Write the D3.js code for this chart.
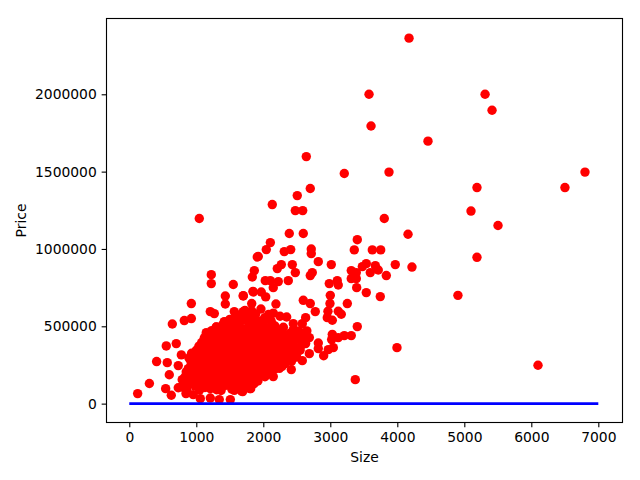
<!DOCTYPE html>
<html>
<head>
<meta charset="utf-8">
<script src="https://cdn.jsdelivr.net/npm/d3@7"></script>
<style>
  body { margin: 0; background: #fff; }
  svg { display: block; }
  text { font-family: "DejaVu Sans", sans-serif; fill: #000; }
</style>
</head>
<body>
<script>
// house prices vs size

// points that stand clear of the main cloud
var outerSizes = [125, 300, 543, 627, 597, 408, 567, 552, 701, 731, 777, 642, 821, 926, 926, 1149, 1209, 1269, 1224, 1224,
  1552, 1433, 1433, 1567, 1701, 1836, 1866, 1910, 1846, 1298, 1418, 1518, 1060, 1209, 1343, 1508, 731, 846, 955, 1304,
  1567, 1692, 1812, 1861, 2388, 2597, 3403, 3358, 3627, 3752, 2105, 2045, 1925, 2313, 2409, 2716, 2716, 2821, 3015, 3970,
  3537, 3478, 3672, 3716, 3597, 3836, 3313, 3388, 3313, 3388, 3394, 3537, 3746, 2269, 2209, 2433, 2478, 2731, 2701, 2030,
  2105, 2149, 2224, 2373, 2985, 3104, 3119, 3000, 2995, 2965, 2955, 3030, 3119, 3164, 3254, 2597, 2701, 2776, 3403, 3313,
  3209, 3119, 3030, 3020, 3045, 2970, 2901, 2821, 2821, 2687, 2687, 2582, 2418, 2149, 3373, 3995, 1851, 1970, 2036, 1701,
  1827, 1827, 2189, 1726, 2632, 2582, 2448, 2349, 2632, 2498, 2324, 2000, 1827, 1801, 1677, 2149,
  2642, 3209, 2701, 2507, 2134, 2478, 2588, 1045, 3806, 4175, 3578, 3608, 5310, 5414, 4458, 3876, 6801, 6502, 5189, 5100,
  5503, 5189, 4160, 4219, 4905, 6100,
  2450, 2530, 2600, 2500, 2580, 2450, 2650, 2540];
var outerPrices = [65000, 130000, 97000, 54000, 187000, 272000, 265000, 373000, 388000, 246000, 315000, 515000, 537000, 550000, 647000, 459000, 595000, 582000, 834000, 776000,
  770000, 696000, 644000, 595000, 698000, 819000, 860000, 948000, 726000, 495000, 530000, 519000, 32000, 36000, 26000, 26000, 103000, 65000, 58000, 90000,
  86000, 78000, 97000, 129000, 1100000, 1100000, 1060000, 994000, 994000, 994000, 1041000, 996000, 951000, 983000, 996000, 1000000, 970000, 918000, 899000, 899000,
  905000, 886000, 892000, 864000, 847000, 828000, 860000, 847000, 808000, 808000, 750000, 718000, 692000, 899000, 873000, 899000, 847000, 847000, 828000, 795000,
  795000, 750000, 789000, 795000, 776000, 795000, 767000, 700000, 647000, 597000, 556000, 539000, 597000, 578000, 647000, 668000, 647000, 595000, 498000, 440000,
  440000, 427000, 448000, 414000, 362000, 349000, 310000, 392000, 356000, 427000, 323000, 278000, 220000, 175000, 155000, 362000, 722000, 722000, 690000, 696000,
  647000, 600000, 644000, 603000, 388000, 517000, 517000, 560000, 556000, 301000, 259000, 181000, 125000, 97000, 81000, 237000,
  1597000, 1488000, 1391000, 1345000, 1287000, 1248000, 1248000, 1197000, 1197000, 2363000, 2000000, 1795000, 2000000, 1897000, 1697000, 1497000, 1497000, 1397000, 1397000, 1245000,
  1152000, 946000, 1095000, 883000, 700000, 248000,
  480000, 470000, 440000, 420000, 400000, 350000, 470000, 345000];

// main cloud, read roughly band by band
var cloudSizes = [780, 860, 980, 1050, 1130, 1210, 1290, 1370, 1440, 1530, 1620, 1700,
  790, 870, 950, 1040, 1120, 1180, 1270, 1340, 1420, 1510, 1590, 1660, 1750, 1830, 1920,
  850, 930, 1010, 1090, 1170, 1250, 1330, 1410, 1490, 1570, 1650, 1730, 1810, 1890, 1960, 2050, 2110,
  920, 1000, 1080, 1160, 1240, 1320, 1400, 1480, 1560, 1640, 1720, 1800, 1880, 1960, 2040, 2120, 2200, 2280,
  890, 960, 1040, 1120, 1200, 1280, 1360, 1440, 1520, 1600, 1680, 1760, 1840, 1920, 2000, 2080, 2160, 2240, 2320, 2400,
  1000, 1085, 1165, 1250, 1330, 1410, 1495, 1575, 1660, 1740, 1825, 1905, 1990, 2070, 2150, 2235, 2315, 2400, 2480, 2550,
  1080, 1170, 1260, 1345, 1430, 1520, 1605, 1690, 1780, 1865, 1950, 2040, 2125, 2210, 2300, 2385, 2470, 2600,
  1150, 1240, 1325, 1415, 1500, 1590, 1675, 1765, 1850, 1940, 2025, 2115, 2200, 2290, 2400,
  1300, 1390, 1475, 1565, 1650, 1740, 1825, 1915, 2000, 2090, 2175, 2300,
  1500, 1585, 1670, 1760, 1845, 1930, 2020, 2105, 2250,
  1700, 1965, 2150];
var cloudPrices = [108000, 92000, 115000, 88000, 104000, 96000, 112000, 85000, 118000, 94000, 106000, 110000,
  155000, 140000, 162000, 148000, 135000, 158000, 145000, 166000, 138000, 152000, 142000, 160000, 136000, 154000, 146000,
  205000, 188000, 212000, 196000, 185000, 208000, 192000, 215000, 186000, 202000, 194000, 210000, 184000, 206000, 198000, 190000, 214000,
  245000, 258000, 238000, 262000, 248000, 235000, 255000, 242000, 265000, 236000, 252000, 244000, 260000, 239000, 256000, 247000, 263000, 241000,
  295000, 308000, 288000, 312000, 298000, 285000, 305000, 292000, 315000, 286000, 302000, 294000, 310000, 289000, 306000, 297000, 313000, 291000, 304000, 296000,
  345000, 358000, 338000, 362000, 348000, 335000, 355000, 342000, 365000, 336000, 352000, 344000, 360000, 339000, 356000, 347000, 363000, 341000, 354000, 346000,
  395000, 408000, 388000, 412000, 398000, 385000, 405000, 392000, 415000, 386000, 402000, 394000, 410000, 389000, 406000, 397000, 413000, 391000,
  445000, 458000, 438000, 462000, 448000, 435000, 455000, 442000, 465000, 436000, 452000, 444000, 460000, 439000, 456000,
  495000, 508000, 488000, 512000, 498000, 485000, 505000, 492000, 515000, 486000, 502000, 494000,
  545000, 558000, 538000, 562000, 548000, 535000, 555000, 542000, 565000,
  595000, 612000, 585000];

// the packed middle of the cloud, between the bands above
var coreSizes = [820, 900, 985, 1065, 1150, 1235, 1315, 1400, 1475, 1560, 1640, 1720, 1790,
  830, 905, 990, 1070, 1145, 1225, 1300, 1385, 1465, 1545, 1625, 1700, 1785, 1865, 1950, 2025,
  880, 965, 1045, 1125, 1205, 1290, 1370, 1450, 1530, 1610, 1690, 1770, 1850, 1930, 2010, 2090, 2170, 2240,
  920, 1005, 1090, 1170, 1255, 1335, 1420, 1500, 1585, 1665, 1750, 1830, 1915, 1995, 2080, 2160, 2245, 2330, 2420,
  930, 1020, 1105, 1190, 1270, 1355, 1440, 1525, 1610, 1690, 1775, 1860, 1945, 2025, 2110, 2195, 2280, 2360, 2445,
  1040, 1125, 1210, 1295, 1375, 1460, 1545, 1630, 1715, 1800, 1880, 1965, 2050, 2135, 2220, 2300, 2380, 2440, 2560,
  1120, 1205, 1290, 1375, 1465, 1550, 1635, 1720, 1810, 1895, 1980, 2070, 2155, 2245, 2330, 2450,
  1230, 1315, 1400, 1490, 1575, 1660, 1750, 1835, 1920, 2010, 2095, 2180, 2280,
  1420, 1595, 1770, 1945, 2120,
  1620, 1885, 2080];
var corePrices = [122000, 130000, 126000, 120000, 128000, 124000, 132000, 121000, 127000, 125000, 131000, 123000, 129000,
  172000, 178000, 170000, 176000, 174000, 180000, 171000, 177000, 173000, 179000, 175000, 169000, 181000, 172000, 178000, 174000,
  226000, 221000, 229000, 224000, 231000, 222000, 228000, 225000, 220000, 230000, 223000, 227000, 232000, 221000, 226000, 229000, 224000, 228000,
  272000, 278000, 274000, 280000, 271000, 277000, 273000, 279000, 275000, 270000, 281000, 276000, 272000, 278000, 274000, 280000, 271000, 277000, 273000,
  326000, 322000, 329000, 324000, 331000, 321000, 327000, 325000, 320000, 330000, 323000, 328000, 332000, 322000, 326000, 329000, 324000, 327000, 321000,
  372000, 378000, 374000, 380000, 371000, 377000, 373000, 379000, 375000, 370000, 381000, 376000, 372000, 378000, 374000, 380000, 371000, 377000, 373000,
  426000, 422000, 429000, 424000, 431000, 421000, 427000, 425000, 420000, 430000, 423000, 428000, 432000, 422000, 426000, 429000,
  472000, 478000, 474000, 480000, 471000, 477000, 473000, 479000, 475000, 470000, 481000, 476000, 472000,
  526000, 529000, 531000, 525000, 530000,
  572000, 580000, 577000];

var lineX = [0, 7000];
var lineY = [0, 0];

var xTicks = [0, 1000, 2000, 3000, 4000, 5000, 6000, 7000];
var yTicks = [0, 500000, 1000000, 1500000, 2000000];

var xDomain = [-340, 7361];
var yDomain = [-122000, 2490000];

var w = 640, h = 480;
var margin = {top: 18.5, right: 17.5, bottom: 57.5, left: 106.5};

var svg = d3.select('body').append('svg')
    .attr('width', w)
    .attr('height', h);

var xScale = d3.scaleLinear().domain(xDomain).range([margin.left, w - margin.right]);
var yScale = d3.scaleLinear().domain(yDomain).range([h - margin.bottom, margin.top]);

var sizes = outerSizes.concat(cloudSizes, coreSizes);
var prices = outerPrices.concat(cloudPrices, corePrices);

// the points
svg.selectAll('circle')
  .data(sizes)
  .enter()
  .append('circle')
  .attr('cx', function (d) { return xScale(d); })
  .attr('cy', function (d, i) { return yScale(prices[i]); })
  .attr('r', 4.7)
  .attr('fill', '#ff0000');

// the regression line
var line = d3.line()
  .x(function (d) { return xScale(d); })
  .y(function (d, i) { return yScale(lineY[i]); });

svg.append('path')
  .attr('d', line(lineX))
  .attr('fill', 'none')
  .attr('stroke', '#0000ff')
  .attr('stroke-width', 2.78);

// axes
var xAxis = d3.axisBottom(xScale).tickValues(xTicks).tickFormat(d3.format('d')).tickSizeOuter(0).tickSizeInner(4.86).tickPadding(4.86);
var yAxis = d3.axisLeft(yScale).tickValues(yTicks).tickFormat(d3.format('d')).tickSizeOuter(0).tickSizeInner(4.86).tickPadding(4.86);

var gx = svg.append('g')
  .attr('transform', 'translate(0,' + (h - margin.bottom) + ')')
  .call(xAxis);
var gy = svg.append('g')
  .attr('transform', 'translate(' + margin.left + ',0)')
  .call(yAxis);

gx.select('.domain').remove();
gy.select('.domain').remove();
svg.selectAll('.tick line').attr('stroke', '#000').attr('stroke-width', 1.11);
svg.selectAll('.tick text').attr('font-size', '13.89px').attr('font-family', '"DejaVu Sans", sans-serif').attr('fill', '#000');

// frame
svg.append('rect')
  .attr('x', margin.left)
  .attr('y', margin.top)
  .attr('width', w - margin.left - margin.right)
  .attr('height', h - margin.top - margin.bottom)
  .attr('fill', 'none')
  .attr('stroke', '#000')
  .attr('stroke-width', 1.11);

// axis titles
svg.append('text')
  .attr('x', (margin.left + w - margin.right) / 2)
  .attr('y', 462)
  .attr('text-anchor', 'middle')
  .attr('font-size', '13.89px')
  .text('Size');

svg.append('text')
  .attr('transform', 'translate(26,' + (margin.top + h - margin.bottom) / 2 + ') rotate(-90)')
  .attr('text-anchor', 'middle')
  .attr('font-size', '13.89px')
  .text('Price');
</script>
</body>
</html>
